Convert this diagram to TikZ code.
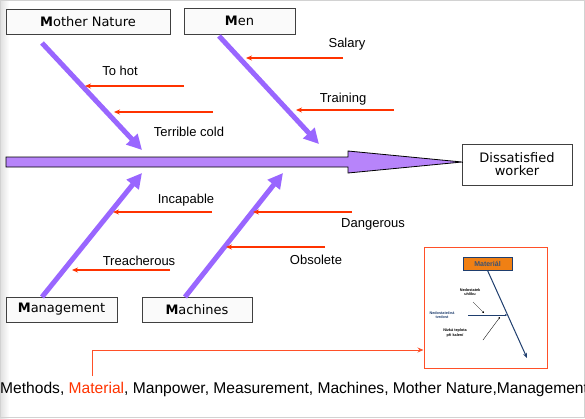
\documentclass[tikz,border=0pt]{standalone}
\usepackage{fontspec}
\setmainfont{Liberation Sans}
\newfontfamily\boxfont{DejaVu Sans}
\usetikzlibrary{positioning,arrows.meta}
\definecolor{bonecol}{RGB}{153,102,255}
\definecolor{spinecol}{RGB}{183,132,250}
\definecolor{causecol}{RGB}{255,51,0}
\definecolor{insetcol}{RGB}{255,80,40}
\definecolor{navycol}{RGB}{31,62,110}
\definecolor{matcol}{RGB}{240,128,20}

\begin{document}
\begin{tikzpicture}[x=1pt,y=-1pt,
			category/.style={rectangle, draw=black!75, fill=gray!4, inner sep=0pt, font=\boxfont\fontsize{13}{15}\selectfont},
			bonearrow/.style={draw=bonecol, line width=5pt, -{Triangle[length=15pt,width=15pt]}},
			causearrow/.style={draw=causecol, line width=1.1pt, -{Stealth[length=6pt,width=5pt]}},
			causelabel/.style={inner sep=0pt, font=\fontsize{13}{15}\selectfont},
			tiny/.style={inner sep=0pt, align=center, font=\fontsize{3.8}{4.4}\selectfont\bfseries},
			tinyarrow/.style={->, >={Stealth[length=2pt,width=2pt]}, line width=0.35pt}
			]
			
			% okraj obrazku
			\useasboundingbox (0,0) rectangle (585,418);
			\shade[left color=gray!25, right color=white] (0,0) rectangle (9,418);
			\draw[gray!35] (0.5,0.5) rectangle (584.5,417.5);
			
			% kategorie nahore a dole
			\node[category, minimum width=164pt, minimum height=25pt] (nature) at (88,21.5) {\textbf{M}other Nature};
			\node[category, minimum width=111pt, minimum height=26pt] (men) at (239.5,21) {\textbf{M}en};
			\node[category, minimum width=111pt, minimum height=25pt] (mgmt) at (61.5,309.5) {\textbf{M}anagement};
			\node[category, minimum width=110pt, minimum height=25pt] (mach) at (197,309.5) {\textbf{M}achines};
			
			% nasledek
			\node[category, fill=white, align=center, minimum width=110pt, minimum height=41pt] (worker) at (517,164.5) {Dissatisfied\\[-2pt]worker};
			
			% hlavni pater
			\coordinate (spinetip) at (462,162);
			\draw[black, fill=spinecol, line width=0.8pt] (6,157) -- (348,157) -- (348,151) -- (spinetip) -- (348,173) -- (348,167) -- (6,167) -- cycle;
			\draw[black, line width=0.8pt] (spinetip) -- (worker.west |- spinetip);
			
			% kosti
			\coordinate (natureend) at (142,150);
			\coordinate (menend) at (319,144);
			\coordinate (mgmtend) at (142,173);
			\coordinate (machend) at (283,173);
			\draw[bonearrow] (42,43) -- (natureend);
			\draw[bonearrow] (219,36) -- (menend);
			\draw[bonearrow] (42,297) -- (mgmtend);
			\draw[bonearrow] (185,297) -- (machend);
			
			% priciny - Mother Nature
			\node[causelabel] (hot) at (120,71) {To hot};
			\node[causelabel] (cold) at (189,132) {Terrible cold};
			\draw[causearrow] (184,86) -- (85,86);
			\draw[causearrow] (213,112) -- (114,112);
			
			% priciny - Men
			\node[causelabel] (salary) at (347,44) {Salary};
			\node[causelabel] (training) at (343,99) {Training};
			\draw[causearrow] (343,58) -- (246,58);
			\draw[causearrow] (394,110) -- (296,110);
			
			% priciny - Management
			\node[causelabel] (incap) at (186,200) {Incapable};
			\node[causelabel] (treach) at (139,261) {Treacherous};
			\draw[causearrow] (212,212) -- (113,212);
			\draw[causearrow] (170,270) -- (72,270);
			
			% priciny - Machines
			\node[causelabel] (danger) at (373,224) {Dangerous};
			\node[causelabel] (obsol) at (316,260) {Obsolete};
			\draw[causearrow] (352,212) -- (253,212);
			\draw[causearrow] (325,247) -- (226,247);
			
			% vlozeny obrazek s ukazkou
			\node[draw=insetcol, line width=1pt, minimum width=123pt, minimum height=121pt, inner sep=0pt] (inset) at (485.5,307.5) {};
			\node[draw=navycol, fill=matcol, line width=0.8pt, minimum width=49pt, minimum height=13pt, inner sep=0pt, text=gray!30!navycol, font=\fontsize{7}{8}\selectfont\bfseries] (material) at (487.5,263.5) {Materiál};
			\coordinate (matend) at (527,358);
			\draw[navycol, line width=1pt, -{Stealth[length=5pt,width=4pt]}] (material.south) -- (matend);
			\node[tiny] (uhlik) at (470,292) {Nedostatek\\uhlíku};
			\node[tiny, text=navycol] (tvrdost) at (442,315) {Nedostatečná\\tvrdost};
			\node[tiny] (teplota) at (455,333) {Nízká teplota\\při kalení};
			\coordinate (tvrdend) at (507,315);
			\draw[tinyarrow, navycol] (468,315) -- (tvrdend);
			\draw[tinyarrow] (473,302) -- (484,313);
			\draw[tinyarrow] (483,340) -- (500,317);
			
			% seznam 7M dole
			\node[anchor=base west, inner sep=0pt, font=\fontsize{15.6}{18}\selectfont] (mlist) at (0,393) {Methods, \textcolor{causecol}{Material}, Manpower, Measurement, Machines, Mother Nature,Management};
			\coordinate (matup) at (92,376);
			\coordinate (insetin) at (inset.west |- 0,350);
			\draw[insetcol, line width=1pt, -{Stealth[length=6pt,width=5pt]}] (matup) |- (insetin);
			
		\end{tikzpicture}
\end{document}
